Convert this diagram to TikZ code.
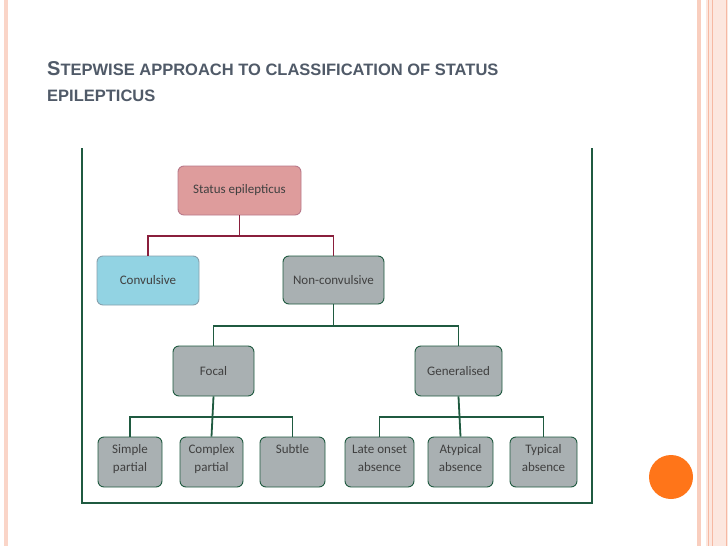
\documentclass[tikz,border=0pt]{standalone}
\usepackage{fontspec}
\setmainfont{Carlito}
\newfontfamily\titlefont{Liberation Sans}
\begin{document}
\begin{tikzpicture}[x=1pt,y=-1pt,
  box/.style={draw=frame, line width=0.9pt, rounded corners=6pt, fill=grayfill, inner sep=0pt, font=\fontsize{13}{13}\selectfont, text=black!75},
  conn/.style={draw=frame, line width=1.8pt},
  topconn/.style={draw=maroon, line width=1.5pt}]
\definecolor{frame}{HTML}{1F5A40}
\definecolor{grayfill}{HTML}{A9B0B2}
\definecolor{maroon}{HTML}{8A1F3C}
\definecolor{salmon}{HTML}{F6B9A3}
\definecolor{titlec}{HTML}{505A68}
\definecolor{sefill}{HTML}{DE9C9C}
\definecolor{cvfill}{HTML}{92D3E3}
\useasboundingbox (0,0) rectangle (728,546);
\fill[white] (0,0) rectangle (728,546);
% borders
\fill[salmon!60] (4,0) rectangle (8,546);
\fill[salmon!70] (697,0) rectangle (701,546);
\fill[salmon!35] (706,0) rectangle (728,546);
\draw[salmon, line width=1pt] (708,0) -- (708,546) (712,0)--(712,546) (726,0)--(726,546);
\node[circle, fill=orange!80!red!90, minimum size=44pt, inner sep=0pt] (dot) at (671,477) {};
% title
\node[anchor=base west, text=titlec, inner sep=0pt] (t1) at (47,75) {\titlefont\bfseries\fontsize{20}{20}\selectfont S\fontsize{16.5}{17}\selectfont TEPWISE APPROACH TO CLASSIFICATION OF STATUS};
\node[anchor=base west, text=titlec, inner sep=0pt] (t2) at (47,101) {\titlefont\bfseries\fontsize{16.5}{17}\selectfont EPILEPTICUS};
% frame
\draw[frame, line width=1.6pt] (82,148) -- (82,503) -- (592,503) -- (592,148);
% junctions
\coordinate (j1) at (239.5,236);
\coordinate (j2) at (333.5,326);
\coordinate (j3) at (213.5,417);
\coordinate (j4) at (458.5,417);
% nodes
\node[box, fill=sefill, draw=maroon!60, minimum width=123pt, minimum height=49pt] (se) at (239.5,190.5) {Status epilepticus};
\node[box, fill=cvfill, draw=cyan!40!black!60, minimum width=102pt, minimum height=49pt] (cv) at (148,280.5) {Convulsive};
\node[box, minimum width=101pt, minimum height=48pt] (nc) at (333.5,280) {Non-convulsive};
\node[box, minimum width=81pt, minimum height=50pt] (fo) at (213.5,371) {Focal};
\node[box, minimum width=87pt, minimum height=50pt] (ge) at (458.5,371) {Generalised};
\foreach \n/\x/\w in {sp/130/64, cp/211.5/63, su/292.5/65, lo/379.5/69, at/460.5/65, ty/543.5/67}
  \node[box, minimum width=\w pt, minimum height=50pt] (\n) at (\x,462) {};
\foreach \n/\t in {sp/{Simple\\partial}, cp/{Complex\\partial}, su/{Subtle}, lo/{Late onset\\absence}, at/{Atypical\\absence}, ty/{Typical\\absence}}
  \node[anchor=north, align=center, inner sep=0pt, font=\fontsize{13}{18}\selectfont, text=black!75] (\n t) at ([yshift=-8pt]\n.north) {\t};
% connectors
\draw[topconn] (se.south) -- (j1);
\draw[topconn] (cv.north) |- (j1) -| (nc.north);
\draw[conn] (nc.south) -- (j2);
\draw[conn] (fo.north) |- (j2) -| (ge.north);
\draw[conn] (fo.south) -- (cp.north);
\draw[conn] (sp.north) |- (j3) -| (su.north);
\draw[conn] (ge.south) -- (at.north);
\draw[conn] (lo.north) |- (j4) -| (ty.north);
\end{tikzpicture}
\end{document}
